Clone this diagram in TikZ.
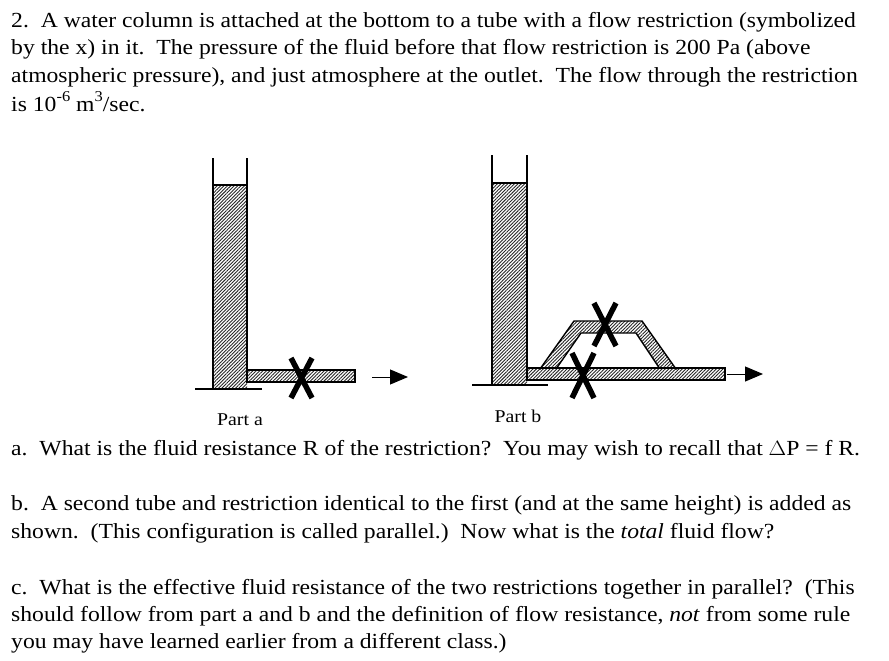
\documentclass[tikz,border=0pt]{standalone}
\usepackage{fontspec}
\setmainfont{Liberation Serif}
\usetikzlibrary{patterns.meta,arrows.meta}
\newcommand{\wideT}[1]{\scalebox{1.10}[1]{#1}}
\begin{document}
\begin{tikzpicture}[x=1pt,y=-1pt,
  txt/.style={anchor=base west,inner sep=0pt,font=\fontsize{21.5}{22}\selectfont},
  lbl/.style={anchor=base,inner sep=0pt,font=\fontsize{18}{18}\selectfont},
  hatch/.style={pattern={Lines[angle=45,distance=2.4pt,line width=0.9pt]},pattern color=black!85},
  wall/.style={line width=1.4pt},
  xmark/.style={line width=5.5pt},
  flow/.style={line width=1pt,-{Triangle[length=18pt,width=15pt]}}]
\useasboundingbox (0,0) rectangle (889,661);
\node[txt] (t1) at (11,28) {\wideT{2.\ \ A water column is attached at the bottom to a tube with a flow restriction (symbolized}};
\node[txt] (t2) at (11,55) {\wideT{by the x) in it.\ \ The pressure of the fluid before that flow restriction is 200 Pa (above}};
\node[txt] (t3) at (11,82) {\wideT{atmospheric pressure), and just atmosphere at the outlet.\ \ The flow through the restriction}};
\node[txt] (t4) at (11,111) {\wideT{is 10\raisebox{0.45em}{\fontsize{15}{15}\selectfont -6} m\raisebox{0.45em}{\fontsize{15}{15}\selectfont 3}/sec.}};
% Part a
\fill[hatch] (213,185) rectangle (247,388);
\draw[wall] (213,158) -- (213,388);
\draw[wall] (247,158) -- (247,370);
\draw[wall] (213,185) -- (247,185);
\draw[line width=2.5pt] (195,389) -- (262,389);
\draw[wall,hatch] (247,370) rectangle (355,382);
\draw[xmark] (291,358) -- (312,398) (312,358) -- (291,398);
\coordinate (aa) at (372,377); \coordinate (ab) at (408,377);
\draw[flow] (aa) -- (ab);
\node[lbl] (pa) at (240,425) {\wideT{Part a}};
% Part b
\fill[hatch] (492,183) rectangle (527,385);
\draw[wall] (492,155) -- (492,385);
\draw[wall] (527,155) -- (527,368);
\draw[wall] (492,183) -- (527,183);
\draw[line width=2.5pt] (472,385) -- (548,385);
\draw[wall,hatch,even odd rule] (540,369) -- (574,321) -- (642,321) -- (676,369) -- cycle
  (556,369) -- (581,333) -- (636,333) -- (660,369) -- cycle;
\fill[white] (541,369) rectangle (675,372);
\draw[wall,hatch] (527,368) rectangle (725,380);
\draw[xmark] (594,303) -- (616,346) (616,303) -- (594,346);
\draw[xmark] (572,353) -- (594,398) (594,353) -- (572,398);
\coordinate (ba) at (727,374); \coordinate (bb) at (763,374);
\draw[flow] (ba) -- (bb);
\node[lbl] (pb) at (518,422) {\wideT{Part b}};
% questions
\node[txt] (qa) at (11,455) {\wideT{a.\ \ What is the fluid resistance R of the restriction?\ \ You may wish to recall that $\Delta$P = f R.}};
\node[txt] (qb1) at (11,510) {\wideT{b.\ \ A second tube and restriction identical to the first (and at the same height) is added as}};
\node[txt] (qb2) at (11,538) {\wideT{shown.\ \ (This configuration is called parallel.)\ \ Now what is the \textit{total} fluid flow?}};
\node[txt] (qc1) at (11,594) {\wideT{c.\ \ What is the effective fluid resistance of the two restrictions together in parallel?\ \ (This}};
\node[txt] (qc2) at (11,621) {\wideT{should follow from part a and b and the definition of flow resistance, \textit{not} from some rule}};
\node[txt] (qc3) at (11,648) {\wideT{you may have learned earlier from a different class.)}};
\end{tikzpicture}
\end{document}
